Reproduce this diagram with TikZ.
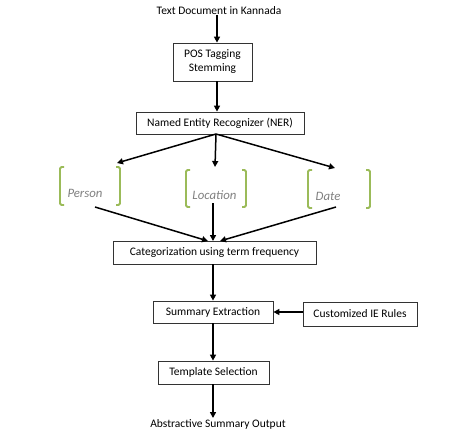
\documentclass[tikz,border=0pt]{standalone}
\usepackage{fontspec}
\setmainfont{Carlito}
\usetikzlibrary{arrows.meta}
\definecolor{brgreen}{HTML}{9BBB59}
\definecolor{lbgray}{HTML}{7F7F7F}
\begin{document}
\begin{tikzpicture}[x=1pt,y=-1pt,
  box/.style={draw=black!80,line width=0.8pt,inner sep=0pt,font=\fontsize{11.5}{14}\selectfont,align=center},
  lbl/.style={inner sep=0pt,font=\fontsize{11.5}{14}\selectfont},
  ent/.style={inner sep=0pt,font=\fontsize{12.8}{15}\selectfont\itshape,text=lbgray},
  arr/.style={-{Triangle[length=6pt,width=6pt]},line width=1.5pt},
  brk/.style={draw=brgreen,line width=1.8pt,rounded corners=1.5pt}]
\useasboundingbox (0,0) rectangle (474,440);
\node[lbl] (doc) at (219,11) {Text Document in Kannada};
\node[box,minimum width=79pt,minimum height=38pt] (pos) at (212.5,62) {POS Tagging\\Stemming};
\node[box,minimum width=168pt,minimum height=22pt] (ner) at (220,123) {Named Entity Recognizer (NER)};
\node[ent] (person) at (85,193) {Person};
\node[ent] (loc) at (214.5,195) {Location};
\node[ent] (date) at (328,196) {Date};
\coordinate (pt) at (117,163);
\coordinate (lt) at (215,167);
\coordinate (dt) at (335,168);
\coordinate (nb) at (216,134);
\draw[brk] (64,167) -- (60,167) -- (60,205) -- (64,205);
\draw[brk] (116,167) -- (120,167) -- (120,205) -- (116,205);
\draw[brk] (190,170) -- (186,170) -- (186,207) -- (190,207);
\draw[brk] (242,170) -- (246,170) -- (246,207) -- (242,207);
\draw[brk] (312,170) -- (308,170) -- (308,208) -- (312,208);
\draw[brk] (366,170) -- (370,170) -- (370,208) -- (366,208);
\node[box,minimum width=203pt,minimum height=23pt] (cat) at (214.5,252.5) {Categorization using term frequency};
\node[box,minimum width=120pt,minimum height=22pt] (sum) at (213,312) {Summary Extraction};
\node[box,minimum width=114pt,minimum height=24pt] (cust) at (360,314) {Customized IE Rules};
\node[box,minimum width=111pt,minimum height=23pt] (tmp) at (213.5,372.5) {Template Selection};
\node[lbl] (out) at (218,424) {Abstractive Summary Output};
\coordinate (pb) at (95,207);
\coordinate (lb) at (213,203);
\coordinate (db) at (336,207);
\coordinate (c1) at (208,241);
\coordinate (c2) at (213,241);
\coordinate (c3) at (220,241);
\coordinate (ot) at (213,418);
\draw[arr] (doc.south -| 217,0) -- (pos.north -| 217,0);
\draw[arr] (pos.south -| 217,0) -- (ner.north -| 217,0);
\draw[arr] (nb) -- (pt);
\draw[arr] (nb) -- (lt);
\draw[arr] (nb) -- (dt);
\draw[arr] (pb) -- (c1);
\draw[arr] (lb) -- (c2);
\draw[arr] (db) -- (c3);
\draw[arr] (cat.south -| 213,0) -- (sum.north -| 213,0);
\draw[arr] (cust.west |- 0,312) -- (sum.east |- 0,312);
\draw[arr] (sum.south -| 213,0) -- (tmp.north -| 213,0);
\draw[arr] (tmp.south -| 213,0) -- (ot);
\end{tikzpicture}
\end{document}
